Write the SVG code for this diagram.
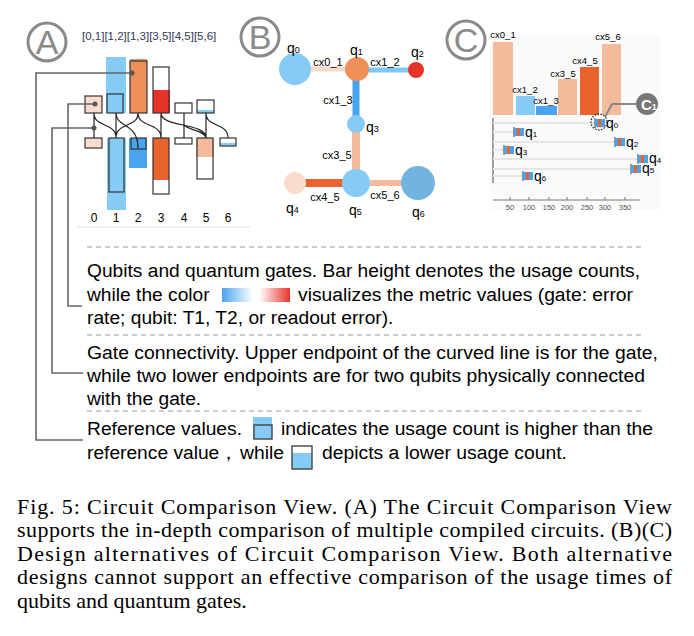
<svg xmlns="http://www.w3.org/2000/svg" width="694" height="636" viewBox="0 0 694 636">
<defs>
<style>
.s{font-family:"Liberation Sans",Arial,sans-serif;fill:#000}
.t{font-family:"Liberation Sans",Arial,sans-serif;font-size:19.2px;fill:#000}
.c{font-family:"Liberation Serif","Times New Roman",serif;font-size:22px;fill:#000}
.lbl{font-family:"Liberation Sans",Arial,sans-serif;font-size:11px;fill:#000}
.ql{font-family:"Liberation Sans",Arial,sans-serif;font-size:14px;fill:#000}
.big{fill:none;stroke:#8a8a8a;stroke-width:3}
.bt{font-family:"Liberation Sans",Arial,sans-serif;font-size:34px;fill:#8a8a8a}
.ol{fill:none;stroke:#333;stroke-width:1.2}
.cur{fill:none;stroke:#222;stroke-width:1.2}
.lead{fill:none;stroke:#666;stroke-width:1.6}
.dash{stroke:#999;stroke-width:1;stroke-dasharray:5,4}
.row{stroke:#e6e6e6;stroke-width:2}
.tk{stroke:#555;stroke-width:1.2}
</style>
<linearGradient id="grad" x1="0" x2="1">
<stop offset="0" stop-color="#4aa3ee"/><stop offset="0.45" stop-color="#ffffff"/><stop offset="0.55" stop-color="#ffffff"/><stop offset="1" stop-color="#e8332a"/>
</linearGradient>
</defs>
<rect width="694" height="636" fill="#fff"/>

<g id="panelA">
<circle cx="47" cy="42" r="19" class="big"/>
<text x="47" y="54" text-anchor="middle" class="bt">A</text>
<text x="82" y="40" class="s" font-size="11.5" style="fill:#2f3a5a">[0,1][1,2][1,3][3,5][4,5][5,6]</text>
<rect x="85" y="96" width="17" height="17" fill="#f9dccd"/><rect x="85" y="96" width="17" height="17" class="ol"/>
<rect x="106" y="57" width="20" height="56" fill="#85cbf5"/><rect x="107" y="94" width="16" height="19" class="ol"/>
<rect x="130" y="59" width="17" height="54" fill="#ee905a"/><rect x="130" y="61" width="17" height="52" class="ol"/>
<rect x="153" y="90" width="17" height="23" fill="#e8332a"/><rect x="153" y="67" width="16" height="46" class="ol"/>
<rect x="175" y="103" width="17" height="10" fill="#fff"/><rect x="175" y="103" width="17" height="10" class="ol"/>
<rect x="197" y="110" width="17" height="3" fill="#85cbf5"/><rect x="197" y="100" width="17" height="13" class="ol"/>
<rect x="85" y="138" width="17" height="10" fill="#f9dccd"/><rect x="85" y="138" width="17" height="10" class="ol"/>
<rect x="107" y="138" width="19" height="72" fill="#85cbf5"/><rect x="109" y="138" width="15" height="54" class="ol"/>
<rect x="129" y="138" width="18" height="30" fill="#4aa3ee"/><rect x="131" y="138" width="15" height="11" class="ol"/>
<rect x="153" y="138" width="16" height="42" fill="#e8632d"/><rect x="153" y="138" width="16" height="56" class="ol"/>
<rect x="175" y="138" width="17" height="6" fill="#fff"/><rect x="175" y="138" width="17" height="6" class="ol"/>
<rect x="196" y="138" width="18" height="19" fill="#f3bb9c"/><rect x="197" y="138" width="16" height="41" class="ol"/>
<rect x="220" y="143" width="16" height="3" fill="#85cbf5"/><rect x="220" y="138" width="16" height="8" class="ol"/>
<g class="s" font-size="12" text-anchor="middle">
<text x="94" y="222">0</text><text x="116" y="222">1</text><text x="138" y="222">2</text><text x="161" y="222">3</text><text x="184" y="222">4</text><text x="206" y="222">5</text><text x="228" y="222">6</text>
</g>
<line x1="77" y1="227" x2="250" y2="227" stroke="#ddd" stroke-width="1"/>
</g>

<g id="connectors">
<path class="cur" d="M94 113V138M94 113C94 128 116 122 116 138M116 113V138M116 113C116 128 138 122 138 148M138 113C138 128 116 122 116 138M138 113C138 128 161 122 161 138M161 113V138M161 113C161 128 206 122 206 138M184 113V138M184 124C184 130 206 130 206 138M206 113V138M206 113C206 128 228 122 228 138"/>
<path class="lead" d="M132 73H36V440H83"/>
<path class="lead" d="M94 128H52V373H83"/>
<path class="lead" d="M95 104H68V306H82"/>
<circle cx="132" cy="73" r="2.5" fill="#555"/><circle cx="94" cy="128" r="2.5" fill="#555"/><circle cx="95" cy="104" r="2.5" fill="#555"/>
</g>

<g id="panelB">
<circle cx="260" cy="37" r="19" class="big"/>
<text x="260" y="49" text-anchor="middle" class="bt">B</text>
<line x1="295" y1="69" x2="357" y2="69" stroke="#f7dacb" stroke-width="5"/>
<line x1="357" y1="70" x2="416" y2="70" stroke="#7fc8f5" stroke-width="5"/>
<line x1="356" y1="69" x2="356" y2="124" stroke="#4aa3ee" stroke-width="7"/>
<line x1="356" y1="124" x2="356" y2="183" stroke="#f3bb9c" stroke-width="8"/>
<line x1="295" y1="183" x2="356" y2="183" stroke="#e8632d" stroke-width="8"/>
<line x1="356" y1="183" x2="418" y2="183" stroke="#f3bb9c" stroke-width="6"/>
<circle cx="295" cy="69" r="16" fill="#85cbf5"/>
<circle cx="357" cy="69" r="12" fill="#ee905a"/>
<circle cx="416" cy="70" r="8" fill="#e8332a"/>
<circle cx="356" cy="124" r="9" fill="#85cbf5"/>
<circle cx="295" cy="183" r="11" fill="#f9dccd"/>
<circle cx="356" cy="183" r="14" fill="#85cbf5"/>
<circle cx="418" cy="183" r="17" fill="#72b3e0"/>
<g class="lbl" text-anchor="middle">
<text x="328" y="66">cx0_1</text><text x="385" y="66">cx1_2</text><text x="338" y="104">cx1_3</text><text x="337" y="159">cx3_5</text><text x="325" y="201">cx4_5</text><text x="385" y="199">cx5_6</text>
</g>
<g class="ql">
<text x="287" y="53">q<tspan font-size="9">0</tspan></text>
<text x="350" y="55">q<tspan font-size="9">1</tspan></text>
<text x="411" y="57">q<tspan font-size="9">2</tspan></text>
<text x="366" y="132">q<tspan font-size="9">3</tspan></text>
<text x="286" y="213">q<tspan font-size="9">4</tspan></text>
<text x="349" y="215">q<tspan font-size="9">5</tspan></text>
<text x="412" y="217">q<tspan font-size="9">6</tspan></text>
</g>
</g>

<g id="panelC">
<circle cx="466" cy="40" r="19" class="big"/>
<text x="466" y="52" text-anchor="middle" class="bt">C</text>
<rect x="490" y="35" width="170" height="175" fill="#fafafa"/>
<rect x="493" y="42" width="20" height="73" fill="#f3bb9c"/>
<rect x="516" y="96" width="19" height="19" fill="#85cbf5"/>
<rect x="536" y="106" width="21" height="9" fill="#4aa3ee"/>
<rect x="558" y="79" width="19" height="36" fill="#f3bb9c"/>
<rect x="580" y="67" width="19" height="48" fill="#e8632d"/>
<rect x="602" y="44" width="19" height="71" fill="#f3bb9c"/>
<g class="s" font-size="9.5" text-anchor="middle">
<text x="503" y="38">cx0_1</text><text x="525" y="93">cx1_2</text><text x="546" y="104">cx1_3</text><text x="563" y="77">cx3_5</text><text x="585" y="64">cx4_5</text><text x="608" y="40">cx5_6</text>
</g>
<line x1="493" y1="118" x2="493" y2="183" stroke="#666" stroke-width="1.2"/>
<g class="row">
<line x1="493" y1="123" x2="595" y2="123"/><line x1="493" y1="132" x2="514" y2="132"/><line x1="493" y1="142" x2="615" y2="142"/><line x1="493" y1="150" x2="504" y2="150"/><line x1="493" y1="159" x2="638" y2="159"/><line x1="493" y1="169" x2="631" y2="169"/><line x1="493" y1="176" x2="523" y2="176"/>
</g>
<g id="glyphs">
<g transform="translate(595,123)"><line x1="0" y1="-5" x2="0" y2="5" class="tk"/><rect x="0" y="-4" width="10" height="8" fill="#4aa3ee"/><rect x="3" y="-4" width="3" height="8" fill="#e8632d"/></g>
<g transform="translate(514,132)"><line x1="0" y1="-5" x2="0" y2="5" class="tk"/><rect x="0" y="-4" width="10" height="8" fill="#4aa3ee"/><rect x="3" y="-4" width="3" height="8" fill="#e8632d"/></g>
<g transform="translate(615,142)"><line x1="0" y1="-5" x2="0" y2="5" class="tk"/><rect x="0" y="-4" width="10" height="8" fill="#4aa3ee"/><rect x="3" y="-4" width="3" height="8" fill="#e8632d"/></g>
<g transform="translate(504,150)"><line x1="0" y1="-5" x2="0" y2="5" class="tk"/><rect x="0" y="-4" width="10" height="8" fill="#4aa3ee"/><rect x="3" y="-4" width="3" height="8" fill="#e8632d"/></g>
<g transform="translate(638,159)"><line x1="0" y1="-5" x2="0" y2="5" class="tk"/><rect x="0" y="-4" width="10" height="8" fill="#4aa3ee"/><rect x="3" y="-4" width="3" height="8" fill="#e8632d"/></g>
<g transform="translate(631,169)"><line x1="0" y1="-5" x2="0" y2="5" class="tk"/><rect x="0" y="-4" width="10" height="8" fill="#4aa3ee"/><rect x="3" y="-4" width="3" height="8" fill="#e8632d"/></g>
<g transform="translate(523,176)"><line x1="0" y1="-5" x2="0" y2="5" class="tk"/><rect x="0" y="-4" width="10" height="8" fill="#4aa3ee"/><rect x="3" y="-4" width="3" height="8" fill="#e8632d"/></g>
</g>
<g class="ql" font-size="13">
<text x="606" y="128">q<tspan font-size="8">0</tspan></text>
<text x="525" y="137">q<tspan font-size="8">1</tspan></text>
<text x="626" y="147">q<tspan font-size="8">2</tspan></text>
<text x="515" y="155">q<tspan font-size="8">3</tspan></text>
<text x="649" y="163">q<tspan font-size="8">4</tspan></text>
<text x="642" y="173">q<tspan font-size="8">5</tspan></text>
<text x="534" y="181">q<tspan font-size="8">6</tspan></text>
</g>
<circle cx="599" cy="122" r="8" fill="none" stroke="#222" stroke-width="1.3" stroke-dasharray="1.5,1.5"/>
<line x1="605" y1="117" x2="612" y2="104" stroke="#888" stroke-width="2"/><line x1="612" y1="104" x2="638" y2="104" stroke="#888" stroke-width="2"/>
<circle cx="647" cy="104" r="11" fill="#777"/>
<text x="641" y="110" class="s" font-size="15" font-weight="bold" style="fill:#fff">C<tspan font-size="9">1</tspan></text>
<line x1="493" y1="200" x2="640" y2="200" stroke="#777" stroke-width="1"/>
<g stroke="#777" stroke-width="1"><line x1="510" y1="197" x2="510" y2="200"/><line x1="529" y1="197" x2="529" y2="200"/><line x1="549" y1="197" x2="549" y2="200"/><line x1="567" y1="197" x2="567" y2="200"/><line x1="587" y1="197" x2="587" y2="200"/><line x1="605" y1="197" x2="605" y2="200"/><line x1="625" y1="197" x2="625" y2="200"/></g>
<g class="s" font-size="7.5" text-anchor="middle" style="fill:#555">
<text x="510" y="210">50</text><text x="529" y="210">100</text><text x="549" y="210">150</text><text x="567" y="210">200</text><text x="587" y="210">250</text><text x="605" y="210">300</text><text x="625" y="210">350</text>
</g>
</g>

<g id="legend">
<line x1="87" y1="247" x2="645" y2="247" class="dash"/>
<text x="87" y="277" class="t" textLength="553" lengthAdjust="spacingAndGlyphs">Qubits and quantum gates. Bar height denotes the usage counts,</text>
<text x="87" y="301" class="t">while the color</text>
<rect x="222" y="288" width="68" height="14" fill="url(#grad)"/>
<text x="298" y="301" class="t" textLength="335" lengthAdjust="spacingAndGlyphs">visualizes the metric values (gate: error</text>
<text x="87" y="324" class="t">rate; qubit: T1, T2, or readout error).</text>
<line x1="87" y1="335" x2="645" y2="335" class="dash"/>
<text x="87" y="359" class="t" textLength="571" lengthAdjust="spacingAndGlyphs">Gate connectivity. Upper endpoint of the curved line is for the gate,</text>
<text x="87" y="382" class="t" textLength="558" lengthAdjust="spacingAndGlyphs">while two lower endpoints are for two qubits physically connected</text>
<text x="87" y="405" class="t">with the gate.</text>
<line x1="87" y1="411" x2="645" y2="411" class="dash"/>
<text x="87" y="435" class="t" textLength="155" lengthAdjust="spacingAndGlyphs">Reference values.</text>
<rect x="253" y="417" width="19" height="22" fill="#85cbf5"/><rect x="254" y="425" width="18" height="14" fill="none" stroke="#444" stroke-width="1.4"/>
<text x="281" y="435" class="t" textLength="372" lengthAdjust="spacingAndGlyphs">indicates the usage count is higher than the</text>
<text x="87" y="459" class="t">reference value，</text>
<text x="240" y="459" class="t" textLength="44" lengthAdjust="spacingAndGlyphs">while</text>
<rect x="292" y="446" width="20" height="23" fill="#85cbf5"/><rect x="292" y="446" width="20" height="7" fill="#fff"/><rect x="292" y="446" width="20" height="23" fill="none" stroke="#444" stroke-width="1.4"/>
<text x="322" y="459" class="t" textLength="245" lengthAdjust="spacingAndGlyphs">depicts a lower usage count.</text>
</g>

<g id="caption">
<text x="17" y="514" class="c" textLength="655" lengthAdjust="spacing">Fig. 5: Circuit Comparison View. (A) The Circuit Comparison View</text>
<text x="17" y="537" class="c" textLength="655" lengthAdjust="spacing">supports the in-depth comparison of multiple compiled circuits. (B)(C)</text>
<text x="17" y="561" class="c" textLength="655" lengthAdjust="spacing">Design alternatives of Circuit Comparison View.  Both alternative</text>
<text x="17" y="584" class="c" textLength="655" lengthAdjust="spacing">designs cannot support an effective comparison of the usage times of</text>
<text x="17" y="608" class="c">qubits and quantum gates.</text>
</g>
</svg>
